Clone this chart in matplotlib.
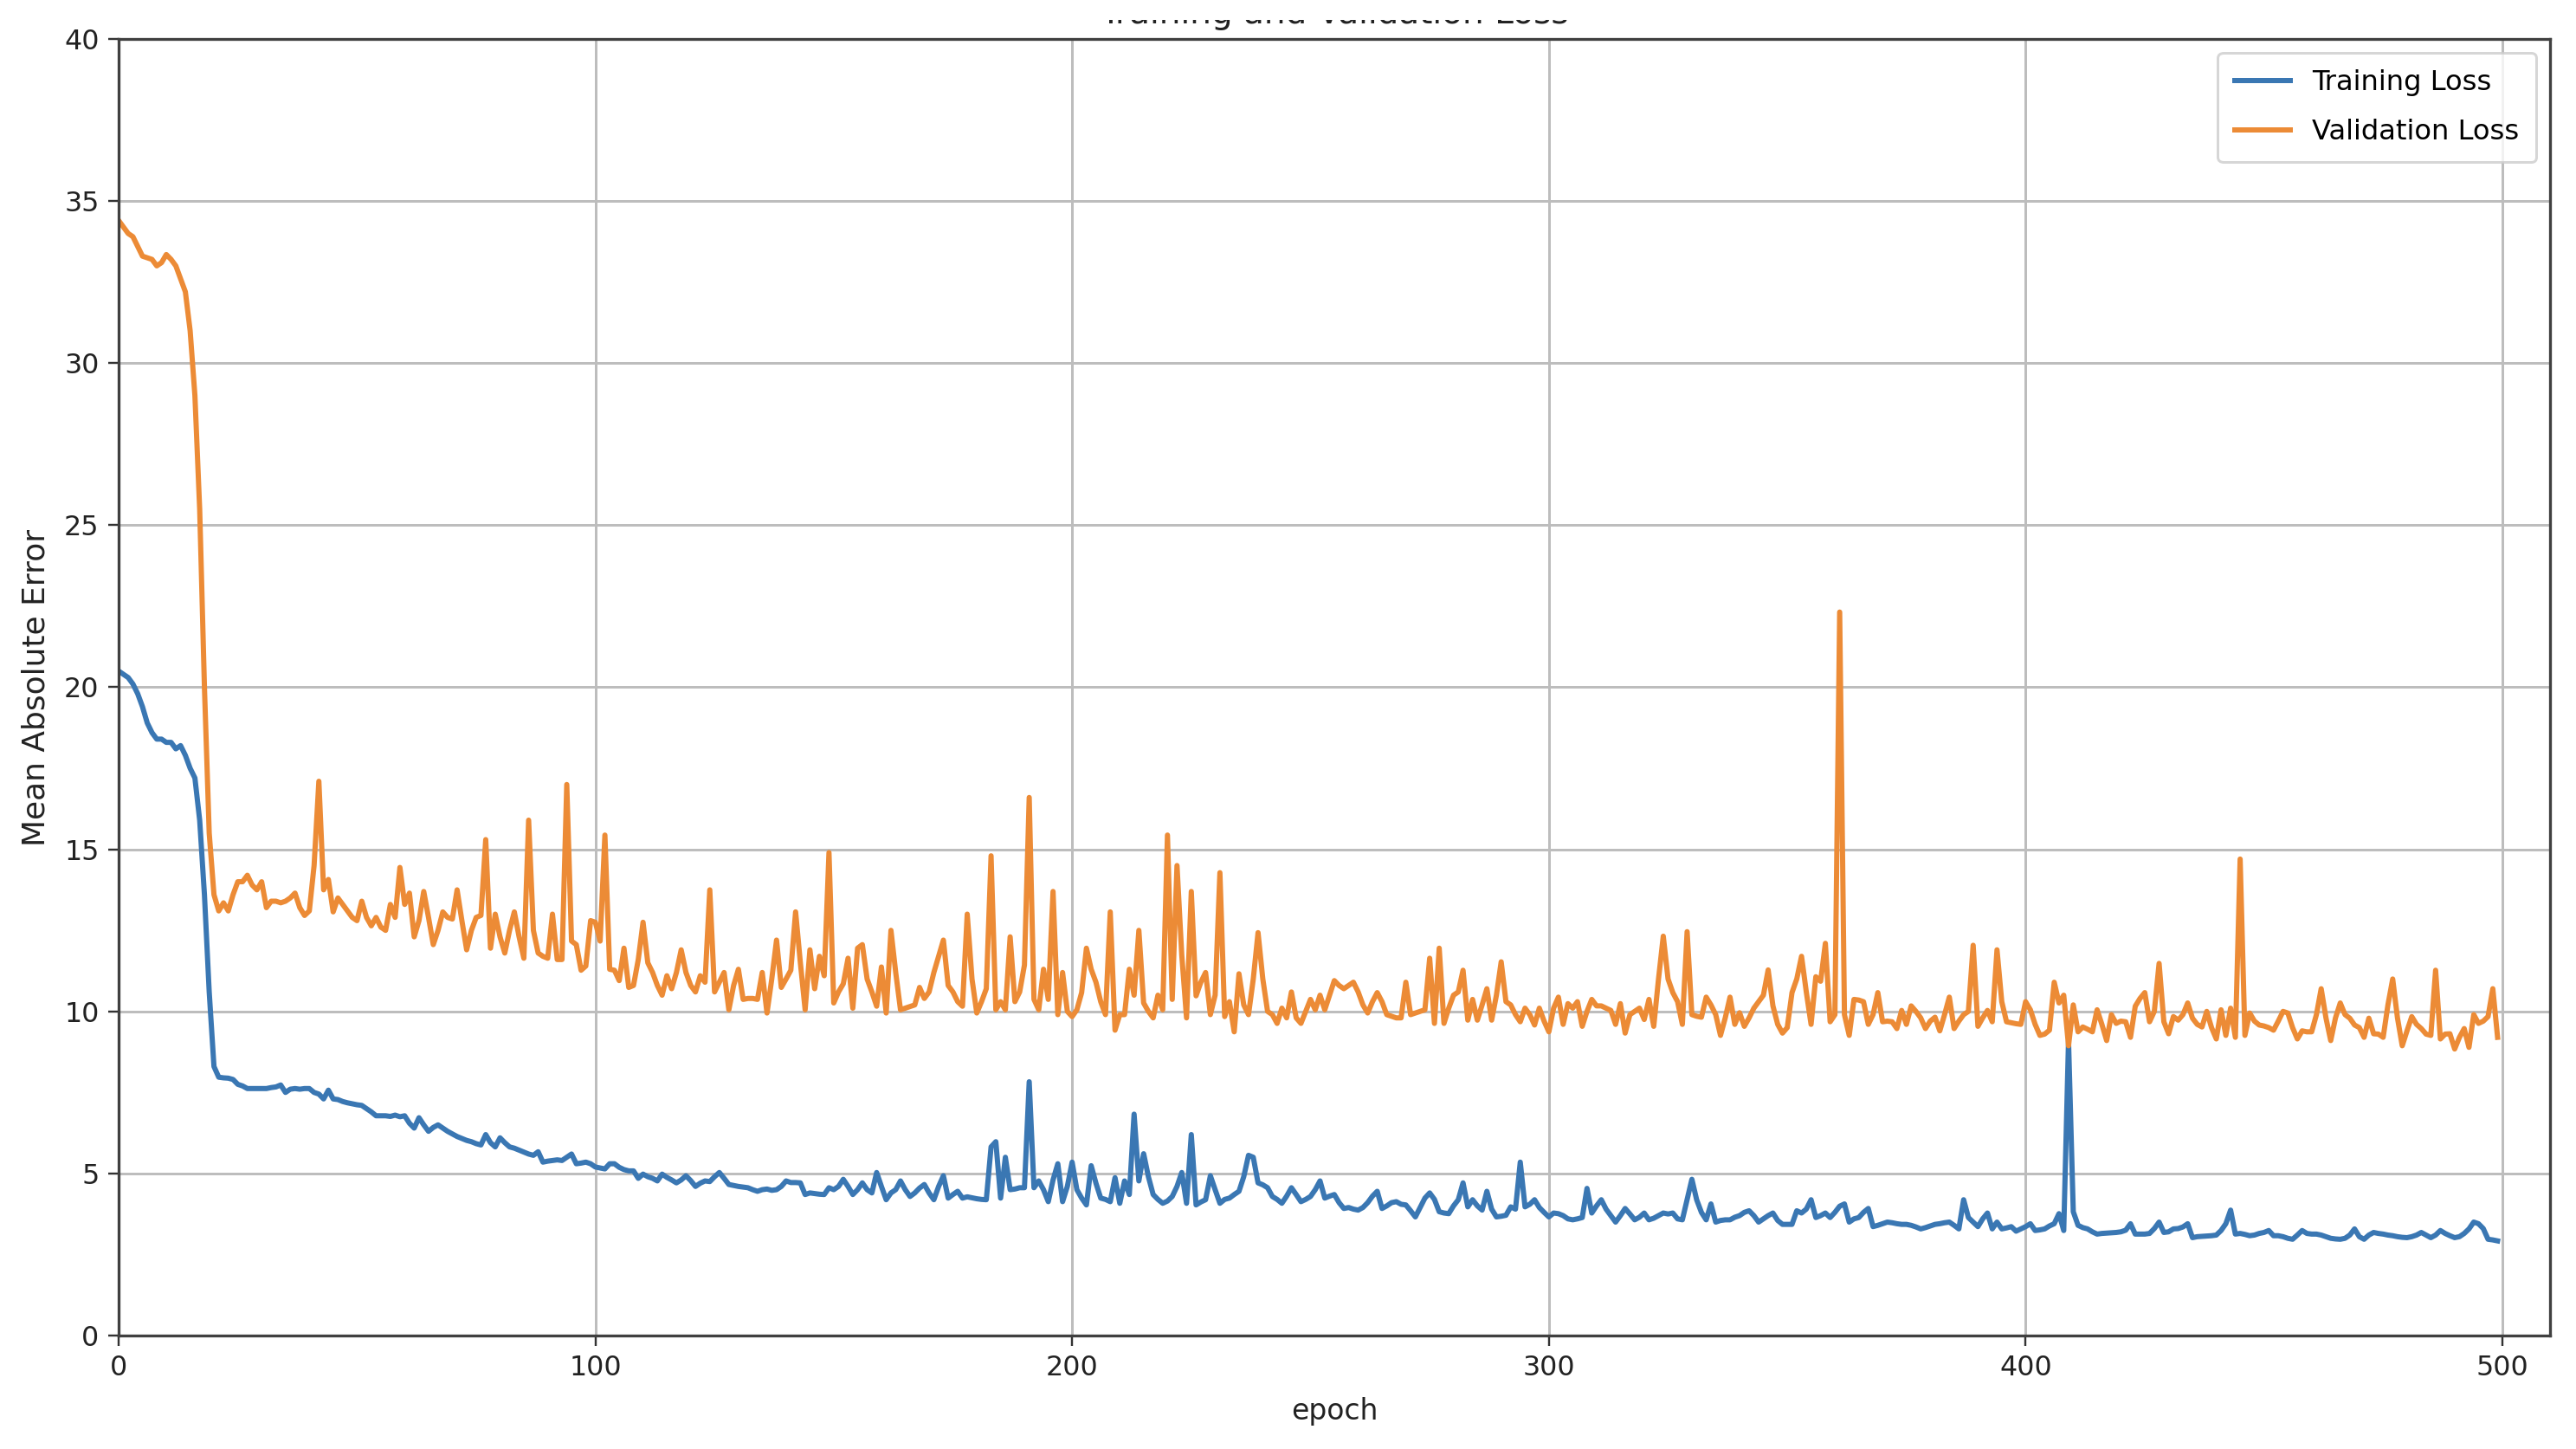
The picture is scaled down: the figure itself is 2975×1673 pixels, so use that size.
import matplotlib
matplotlib.use("Agg")
import matplotlib.pyplot as plt
from matplotlib.patches import Rectangle

train_loss = [
    20.5, 20.4, 20.3, 20.1, 19.8, 19.4, 18.9, 18.6, 18.4, 18.4,
    18.3, 18.3, 18.1, 18.2, 17.9, 17.5, 17.2, 15.9, 13.6, 10.6,
    8.3, 7.97, 7.95, 7.94, 7.9, 7.75, 7.7, 7.62, 7.62, 7.62,
    7.62, 7.62, 7.65, 7.67, 7.73, 7.5, 7.6, 7.62, 7.6, 7.62,
    7.62, 7.5, 7.45, 7.3, 7.57, 7.3, 7.28, 7.22, 7.18, 7.15,
    7.12, 7.1, 7.0, 6.9, 6.78, 6.78, 6.78, 6.76, 6.8, 6.75,
    6.78, 6.55, 6.4, 6.72, 6.5, 6.3, 6.42, 6.5, 6.4, 6.3,
    6.22, 6.14, 6.08, 6.02, 5.98, 5.92, 5.88, 6.2, 5.95, 5.82,
    6.1, 5.95, 5.82, 5.78, 5.72, 5.66, 5.6, 5.56, 5.67, 5.35,
    5.38, 5.4, 5.42, 5.4, 5.5, 5.6, 5.3, 5.32, 5.35, 5.3,
    5.2, 5.17, 5.14, 5.3, 5.3, 5.19, 5.12, 5.08, 5.08, 4.85,
    4.98, 4.9, 4.85, 4.77, 4.98, 4.88, 4.8, 4.71, 4.8, 4.93,
    4.78, 4.6, 4.7, 4.77, 4.75, 4.9, 5.03, 4.85, 4.66, 4.63,
    4.6, 4.58, 4.56, 4.5, 4.45, 4.5, 4.52, 4.48, 4.5, 4.6,
    4.77, 4.72, 4.72, 4.71, 4.35, 4.4, 4.38, 4.36, 4.35, 4.56,
    4.5, 4.6, 4.82, 4.6, 4.35, 4.5, 4.71, 4.5, 4.4, 5.03,
    4.6, 4.19, 4.4, 4.5, 4.77, 4.5, 4.29, 4.4, 4.55, 4.66,
    4.4, 4.19, 4.6, 4.93, 4.24, 4.35, 4.45, 4.24, 4.28, 4.25,
    4.22, 4.2, 4.19, 5.82, 5.98, 4.24, 5.5, 4.5, 4.52, 4.56,
    4.56, 7.83, 4.56, 4.77, 4.5, 4.13, 4.8, 5.3, 4.13, 4.6,
    5.35, 4.5, 4.24, 4.03, 5.24, 4.7, 4.24, 4.2, 4.13, 4.87,
    4.08, 4.77, 4.35, 6.83, 4.77, 5.61, 4.9, 4.35, 4.2, 4.08,
    4.15, 4.29, 4.6, 5.03, 4.08, 6.2, 4.03, 4.12, 4.19, 4.93,
    4.5, 4.08, 4.2, 4.24, 4.35, 4.45, 4.9, 5.56, 5.5, 4.71,
    4.65, 4.56, 4.29, 4.2, 4.08, 4.3, 4.56, 4.35, 4.13, 4.2,
    4.29, 4.5, 4.77, 4.24, 4.3, 4.35, 4.1, 3.92, 3.95, 3.9,
    3.87, 3.95, 4.1, 4.3, 4.45, 3.92, 4.0, 4.1, 4.13, 4.05,
    4.03, 3.85, 3.66, 3.95, 4.24, 4.4, 4.2, 3.82, 3.78, 3.76,
    4.0, 4.19, 4.71, 3.97, 4.19, 4.0, 3.87, 4.45, 3.9, 3.66,
    3.68, 3.71, 3.97, 3.9, 5.35, 3.97, 4.05, 4.19, 3.95, 3.8,
    3.66, 3.78, 3.76, 3.7, 3.6, 3.57, 3.6, 3.64, 4.54, 3.78,
    4.0, 4.19, 3.9, 3.7, 3.5, 3.7, 3.92, 3.75, 3.57, 3.65,
    3.78, 3.57, 3.62, 3.7, 3.78, 3.75, 3.78, 3.6, 3.57, 4.2,
    4.82, 4.19, 3.8, 3.57, 4.06, 3.5, 3.55, 3.57, 3.57, 3.65,
    3.7, 3.8, 3.85, 3.7, 3.5, 3.6, 3.7, 3.78, 3.55, 3.43,
    3.43, 3.43, 3.85, 3.78, 3.9, 4.19, 3.64, 3.7, 3.78, 3.64,
    3.8, 3.99, 4.06, 3.5, 3.6, 3.64, 3.8, 3.92, 3.36, 3.4,
    3.45, 3.5, 3.48, 3.45, 3.43, 3.43, 3.4, 3.35, 3.29, 3.33,
    3.38, 3.43, 3.45, 3.48, 3.5, 3.4, 3.29, 4.19, 3.64, 3.5,
    3.36, 3.6, 3.78, 3.29, 3.5, 3.29, 3.32, 3.36, 3.22, 3.29,
    3.36, 3.45, 3.24, 3.26, 3.29, 3.38, 3.45, 3.76, 3.24, 9.1,
    3.82, 3.4, 3.33, 3.29, 3.2, 3.13, 3.15, 3.16, 3.17, 3.18,
    3.2, 3.25, 3.45, 3.13, 3.13, 3.13, 3.15, 3.3, 3.5, 3.18,
    3.2, 3.29, 3.3, 3.35, 3.45, 3.02, 3.05, 3.06, 3.07, 3.08,
    3.1, 3.24, 3.45, 3.87, 3.13, 3.15, 3.12, 3.08, 3.1, 3.15,
    3.18, 3.24, 3.08, 3.08, 3.05, 3.0, 2.97, 3.1, 3.24, 3.15,
    3.13, 3.13, 3.1, 3.05, 3.0, 2.98, 2.97, 3.0, 3.1, 3.29,
    3.05, 2.97, 3.1, 3.18, 3.15, 3.13, 3.1, 3.08, 3.05, 3.03,
    3.02, 3.05, 3.1, 3.18, 3.1, 3.02, 3.1, 3.24, 3.15, 3.08,
    3.02, 3.05, 3.15, 3.29, 3.5, 3.45, 3.3, 2.97, 2.95, 2.92,
]

val_loss = [
    34.4, 34.2, 34.0, 33.9, 33.6, 33.3, 33.25, 33.2, 33.0, 33.1,
    33.35, 33.2, 33.0, 32.6, 32.2, 31.0, 29.0, 25.5, 20.0, 15.5,
    13.6, 13.1, 13.35, 13.1, 13.6, 14.0, 14.0, 14.2, 13.9, 13.75,
    14.0, 13.2, 13.4, 13.4, 13.35, 13.4, 13.5, 13.65, 13.2, 12.96,
    13.1, 14.5, 17.1, 13.75, 14.07, 13.07, 13.5, 13.3, 13.1, 12.9,
    12.8, 13.4, 12.9, 12.64, 12.9, 12.6, 12.5, 13.3, 12.9, 14.44,
    13.3, 13.65, 12.3, 12.8, 13.7, 12.9, 12.06, 12.5, 13.07, 12.9,
    12.85, 13.75, 12.8, 11.9, 12.5, 12.9, 12.96, 15.3, 11.95, 13.0,
    12.3, 11.8, 12.5, 13.07, 12.3, 11.64, 15.9, 12.5, 11.8, 11.7,
    11.64, 13.0, 11.6, 11.6, 17.0, 12.17, 12.06, 11.27, 11.4, 12.8,
    12.75, 12.17, 15.44, 11.3, 11.27, 10.95, 11.95, 10.74, 10.8, 11.6,
    12.75, 11.5, 11.2, 10.8, 10.5, 11.1, 10.7, 11.2, 11.9, 11.2,
    10.8, 10.6, 11.1, 10.9, 13.75, 10.6, 10.9, 11.2, 10.05, 10.8,
    11.3, 10.37, 10.4, 10.4, 10.37, 11.2, 9.95, 11.0, 12.2, 10.74,
    11.0, 11.27, 13.07, 11.5, 10.05, 11.9, 10.7, 11.7, 11.1, 14.9,
    10.26, 10.6, 10.85, 11.64, 10.1, 11.95, 12.06, 11.0, 10.6, 10.16,
    11.37, 9.95, 12.5, 11.2, 10.05, 10.1, 10.15, 10.2, 10.74, 10.4,
    10.6, 11.2, 11.7, 12.2, 10.8, 10.6, 10.3, 10.16, 13.0, 11.0,
    9.95, 10.3, 10.7, 14.8, 10.05, 10.3, 10.05, 12.3, 10.3, 10.6,
    11.43, 16.6, 10.37, 10.05, 11.3, 10.37, 13.7, 9.9, 11.2, 10.0,
    9.84, 10.05, 10.58, 11.95, 11.3, 10.9, 10.3, 9.9, 13.07, 9.42,
    9.9, 9.9, 11.3, 10.5, 12.5, 10.26, 10.0, 9.8, 10.5, 10.05,
    15.44, 10.37, 14.5, 11.74, 9.8, 13.7, 10.48, 10.9, 11.2, 9.9,
    10.5, 14.28, 9.84, 10.3, 9.37, 11.16, 10.2, 9.9, 11.0, 12.43,
    11.0, 10.0, 9.9, 9.63, 10.1, 9.8, 10.6, 9.8, 9.63, 10.0,
    10.37, 10.05, 10.5, 10.05, 10.5, 10.95, 10.8, 10.7, 10.8, 10.9,
    10.6, 10.2, 9.95, 10.3, 10.58, 10.3, 9.9, 9.85, 9.8, 9.8,
    10.9, 9.9, 9.95, 10.0, 10.05, 11.64, 9.63, 11.95, 9.63, 10.1,
    10.5, 10.6, 11.27, 9.73, 10.37, 9.73, 10.2, 10.7, 9.73, 10.5,
    11.53, 10.3, 10.2, 9.9, 9.68, 10.1, 9.9, 9.58, 10.1, 9.7,
    9.37, 10.1, 10.44, 9.6, 10.24, 10.1, 10.3, 9.54, 10.0, 10.37,
    10.17, 10.17, 10.1, 10.03, 9.6, 10.24, 9.33, 9.9, 10.0, 10.1,
    9.75, 10.37, 9.54, 11.0, 12.32, 11.0, 10.58, 10.3, 9.6, 12.46,
    9.9, 9.85, 9.82, 10.44, 10.2, 9.9, 9.26, 9.8, 10.44, 9.6,
    9.96, 9.54, 9.8, 10.1, 10.3, 10.5, 11.28, 10.17, 9.6, 9.33,
    9.5, 10.58, 11.0, 11.7, 10.6, 9.6, 11.07, 10.93, 12.1, 9.68,
    9.9, 22.32, 9.9, 9.26, 10.37, 10.35, 10.3, 9.6, 9.9, 10.58,
    9.68, 9.7, 9.68, 9.47, 10.03, 9.6, 10.17, 10.0, 9.8, 9.47,
    9.7, 9.82, 9.4, 9.9, 10.44, 9.47, 9.7, 9.9, 10.0, 12.04,
    9.54, 9.8, 10.03, 9.68, 11.9, 10.3, 9.68, 9.65, 9.62, 9.6,
    10.3, 10.05, 9.6, 9.26, 9.3, 9.42, 10.9, 10.26, 10.5, 8.94,
    10.2, 9.37, 9.52, 9.45, 9.37, 10.05, 9.6, 9.1, 9.9, 9.63,
    9.7, 9.68, 9.2, 10.16, 10.4, 10.58, 9.68, 10.0, 11.48, 9.68,
    9.31, 9.84, 9.73, 9.9, 10.26, 9.79, 9.6, 9.52, 10.0, 9.5,
    9.15, 10.05, 9.26, 10.1, 9.2, 14.7, 9.26, 9.95, 9.7, 9.58,
    9.55, 9.5, 9.42, 9.7, 10.0, 9.95, 9.5, 9.15, 9.4, 9.37,
    9.37, 9.9, 10.7, 9.8, 9.1, 9.8, 10.26, 9.9, 9.79, 9.58,
    9.5, 9.2, 9.79, 9.31, 9.3, 9.2, 10.2, 11.0, 9.8, 8.94,
    9.4, 9.84, 9.6, 9.47, 9.3, 9.26, 11.27, 9.15, 9.3, 9.31,
    8.84, 9.2, 9.47, 8.89, 9.9, 9.63, 9.7, 9.84, 10.7, 9.2,
]

epochs = list(range(len(train_loss)))
x_ticks = [0, 100, 200, 300, 400, 500]
y_ticks = [0, 5, 10, 15, 20, 25, 30, 35, 40]

W, H, DPI = 2975, 1673, 216
fig = plt.figure(figsize=(W / DPI, H / DPI), dpi=DPI)
ax = fig.add_axes([137 / W, 1 - 1542 / H, (2945 - 137) / W, (1542 - 45) / H])

ax.plot(epochs, train_loss, color="#3a77b3", linewidth=2.0, label="Training Loss")
ax.plot(epochs, val_loss, color="#ec8b36", linewidth=2.0, label="Validation Loss")

ax.set_xlim(0, 510)
ax.set_ylim(0, 40)
ax.set_xticks(x_ticks)
ax.set_yticks(y_ticks)
ax.grid(True, color="#bdbdbd", linewidth=1.0)
ax.set_axisbelow(True)
for s in ax.spines.values():
    s.set_color("#404040")
    s.set_linewidth(1.1)
ax.tick_params(colors="#333333", labelcolor="#222222", labelsize=10.6, length=4)

ax.set_xlabel("epoch", color="#222222", fontsize=11, labelpad=6)
ax.set_ylabel("Mean Absolute Error", color="#222222", fontsize=12, labelpad=5)
ax.set_title("Training and Validation Loss", pad=6, color="#222222", fontsize=13)
ax.legend(loc="upper right", fontsize=10.7, labelspacing=0.8, borderpad=0.6,
          handlelength=2.0, handletextpad=0.8, borderaxespad=0.5)

# the top of the title is cropped away in the reference
fig.patches.append(Rectangle((0, 1 - 23 / H), 1, 23 / H, transform=fig.transFigure,
                             facecolor="white", edgecolor="none", zorder=10))

fig.savefig("out.png", dpi=DPI)
